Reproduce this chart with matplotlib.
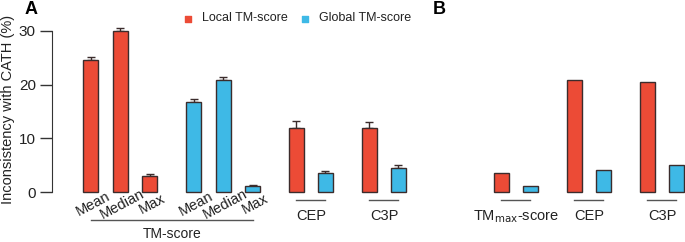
import numpy as np
import matplotlib.pyplot as plt

plt.rcParams['font.family'] = ['Liberation Sans', 'DejaVu Sans']

# Panel A: TM-score statistics (local / global) plus CEP and C3P
stat_labels = ['Mean', 'Median', 'Max']
local_tm = [24.6, 30.0, 3.0]
local_tm_err = [0.6, 0.6, 0.4]
global_tm = [16.8, 20.8, 1.1]
global_tm_err = [0.6, 0.6, 0.2]

method_labels = ['CEP', 'C3P']
local_methods = [11.9, 11.9]
local_methods_err = [1.3, 1.2]
global_methods = [3.5, 4.4]
global_methods_err = [0.5, 0.6]

# Panel B
b_labels = ['TM$_{\\mathrm{max}}$-score', 'CEP', 'C3P']
b_local = [3.5, 20.8, 20.5]
b_global = [1.2, 4.1, 5.0]

RED = '#EC4B36'
BLUE = '#3EB9E6'
EDGE = '#3b2c2c'
LINE = '#555555'
TXT = '#222222'

# pixel-like layout: 5.367 px per unit, zero line 192 px from the top
PX = 5.367
def py(p):
    return (192 - p) / PX

fig = plt.figure(figsize=(6.85, 2.42), dpi=100)
ax = fig.add_axes([0, 0, 1, 1])
ax.set_xlim(0, 685)
ax.set_ylim(py(242), py(0))

bw = 15
pitch = 29.5
x_local = 91 + pitch * np.arange(3)
x_global = 194 + pitch * np.arange(3)
x_meth_l = np.array([296.5, 369.5])
x_meth_g = x_meth_l + 29
x_b_l = np.array([501.5, 574.5, 647.5])
x_b_g = x_b_l + 29

bar_kw = dict(width=bw, edgecolor=EDGE, linewidth=1.0, zorder=2)
err_kw = dict(fmt='none', ecolor=EDGE, elinewidth=1.0, capsize=2.6, capthick=1.0, zorder=1)

ax.bar(x_local, local_tm, color=RED, **bar_kw)
ax.errorbar(x_local, local_tm, yerr=[np.zeros(3), local_tm_err], **err_kw)
ax.bar(x_global, global_tm, color=BLUE, **bar_kw)
ax.errorbar(x_global, global_tm, yerr=[np.zeros(3), global_tm_err], **err_kw)
ax.bar(x_meth_l, local_methods, color=RED, **bar_kw)
ax.errorbar(x_meth_l, local_methods, yerr=[np.zeros(2), local_methods_err], **err_kw)
ax.bar(x_meth_g, global_methods, color=BLUE, **bar_kw)
ax.errorbar(x_meth_g, global_methods, yerr=[np.zeros(2), global_methods_err], **err_kw)
ax.bar(x_b_l, b_local, color=RED, **bar_kw)
ax.bar(x_b_g, b_global, color=BLUE, **bar_kw)

# y axis
for s in ['top', 'right', 'bottom']:
    ax.spines[s].set_visible(False)
ax.spines['left'].set_position(('data', 52.5))
ax.spines['left'].set_bounds(0, 30)
ax.spines['left'].set_color('#333333')
ax.set_xticks([])
ax.set_yticks([0, 10, 20, 30])
ax.tick_params(axis='y', length=9, width=1, color='#333333', labelsize=11,
               labelcolor=TXT, pad=3)
ax.text(8, py(109), 'Inconsistency with CATH (%)', rotation=90, ha='center',
        va='center', fontsize=10.5, color=TXT)

# rotated stat labels
for xs in (x_local, x_global):
    for x, lab in zip(xs, stat_labels):
        ax.text(x + 2, py(204), lab, rotation=28, ha='center', va='center',
                rotation_mode='anchor', fontsize=10.5, color=TXT)
ax.plot([x_local[0], x_global[-1]], [py(220), py(220)], color=LINE, lw=1)
ax.text((x_local[0] + x_global[-1]) / 2, py(234), 'TM-score', ha='center',
        va='center', fontsize=10, color=TXT)

# pair underlines and labels
for xl, xg, lab in list(zip(x_meth_l, x_meth_g, method_labels)) + \
        list(zip(x_b_l, x_b_g, b_labels)):
    ax.plot([xl, xg], [py(200), py(200)], color=LINE, lw=1)
    ax.text((xl + xg) / 2, py(216.5), lab, ha='center', va='center',
            fontsize=10.5, color=TXT)

# legend
ax.scatter([188], [py(19)], marker='s', s=24, color=RED)
ax.text(202, py(18.5), 'Local TM-score', va='center', fontsize=9, color=TXT)
ax.scatter([305], [py(19)], marker='s', s=24, color=BLUE)
ax.text(319, py(18.5), 'Global TM-score', va='center', fontsize=9, color=TXT)

# panel letters
ax.text(25, py(9), 'A', fontsize=13, fontweight='bold', ha='left', va='center')
ax.text(433, py(9), 'B', fontsize=13, fontweight='bold', ha='left', va='center')

fig.savefig('out.png', dpi=100)
